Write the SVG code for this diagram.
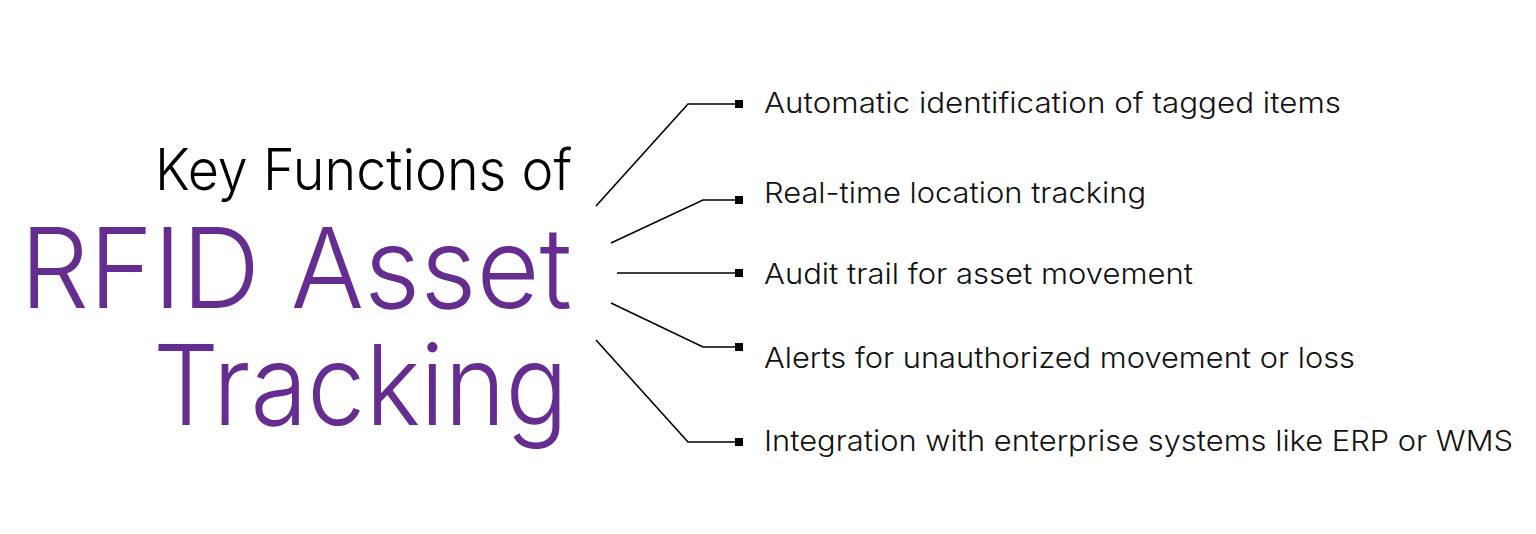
<svg xmlns="http://www.w3.org/2000/svg" width="1536" height="534" viewBox="0 0 1536 534">
<style>
.t{font-family:Inter,"Liberation Sans",sans-serif;font-weight:300}
.item{font-size:29px;fill:#111}
.head{font-size:57px;fill:#000}
.big{font-size:112px;fill:#662d91}
.c{fill:none;stroke:#000;stroke-width:1.6}
.sq{fill:#000}
</style>
<rect width="1536" height="534" fill="#fff"/>
<g id="title">
<text class="t head" x="572" y="190" text-anchor="end" textLength="417" lengthAdjust="spacingAndGlyphs">Key Functions of</text>
<text class="t big" x="572" y="308" text-anchor="end" textLength="552" lengthAdjust="spacingAndGlyphs">RFID Asset</text>
<text class="t big" x="568" y="425" text-anchor="end" textLength="415" lengthAdjust="spacingAndGlyphs">Tracking</text>
</g>
<g id="connectors">
<polyline class="c" points="596,206 688,104 736,104"/>
<polyline class="c" points="611,243 703,200 736,200"/>
<polyline class="c" points="617,273 736,273"/>
<polyline class="c" points="611,303 703,347 736,347"/>
<polyline class="c" points="596,340 688,442 736,442"/>
<rect class="sq" x="735" y="100" width="8" height="8"/>
<rect class="sq" x="735" y="196" width="8" height="8"/>
<rect class="sq" x="735" y="269" width="8" height="8"/>
<rect class="sq" x="735" y="343" width="8" height="8"/>
<rect class="sq" x="735" y="438" width="8" height="8"/>
</g>
<g id="item1"><text class="t item" x="764" y="113" textLength="577" lengthAdjust="spacingAndGlyphs">Automatic identification of tagged items</text></g>
<g id="item2"><text class="t item" x="764" y="203" textLength="382" lengthAdjust="spacingAndGlyphs">Real-time location tracking</text></g>
<g id="item3"><text class="t item" x="764" y="284" textLength="429" lengthAdjust="spacingAndGlyphs">Audit trail for asset movement</text></g>
<g id="item4"><text class="t item" x="764" y="368" textLength="591" lengthAdjust="spacingAndGlyphs">Alerts for unauthorized movement or loss</text></g>
<g id="item5"><text class="t item" x="764" y="451" textLength="749" lengthAdjust="spacingAndGlyphs">Integration with enterprise systems like ERP or WMS</text></g>
</svg>
